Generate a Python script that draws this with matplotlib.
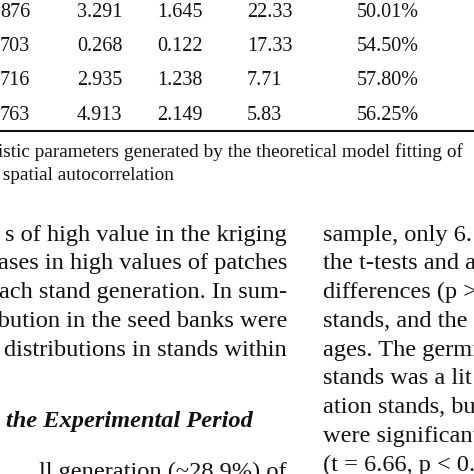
import matplotlib
matplotlib.use("Agg")
import matplotlib.pyplot as plt

col1 = ["876", "703", "716", "763"]
col2 = ["3.291", "0.268", "2.935", "4.913"]
col3 = ["1.645", "0.122", "1.238", "2.149"]
col4 = ["22.33", "17.33", "7.71", "5.83"]
col5 = ["50.01%", "54.50%", "57.80%", "56.25%"]
caption = ["istic parameters generated by the theoretical model fitting of",
           " spatial autocorrelation"]
left_lines = ["s of high value in the kriging",
              "ases in high values of patches",
              "ach stand generation. In sum-",
              "ibution in the seed banks were",
              "distributions in stands within"]
heading = "the Experimental Period"
right_lines = ["sample, only 6.", "the t-tests and a", "differences (p >",
               "stands, and the r", "ages. The germi", "stands was a lit",
               "ation stands, bu", "were significant", "(t = 6.66, p < 0."]
bottom_left = "ll generation (~28.9%) of"

fig = plt.figure(figsize=(4.74, 4.74), dpi=100)
ax = fig.add_axes([0, 0, 1, 1])
ax.set_xlim(0, 474); ax.set_ylim(474, 0); ax.axis("off")
F = "Liberation Serif"

row_y = [12, 46, 80, 115]
xs = [0, 77, 157, 247, 357]
for i, y in enumerate(row_y):
    for x, col in zip(xs, [col1, col2, col3, col4, col5]):
        ax.text(x, y, col[i], family=F, fontsize=14.5, va="center", ha="left", color="#111")
ax.plot([0, 474], [131, 131], color="#111", lw=1.5)
for y, t in zip([152, 176], caption):
    ax.text(-2, y, t, family=F, fontsize=13.9, va="center", ha="left", color="#111")
for i, t in enumerate(left_lines):
    ax.text(287, 235 + 28.8 * i, t, family=F, fontsize=17.6, va="center", ha="right", color="#111")
ax.text(6, 421, heading, family=F, fontsize=17.6, va="center", ha="left",
        weight="bold", style="italic", color="#111")
for i, t in enumerate(right_lines):
    ax.text(323, 235 + 28.8 * i, t, family=F, fontsize=17.6, va="center", ha="left", color="#111")
ax.text(287, 472, bottom_left, family=F, fontsize=17.6, va="center", ha="right", color="#111")
fig.savefig("out.png", dpi=100)
